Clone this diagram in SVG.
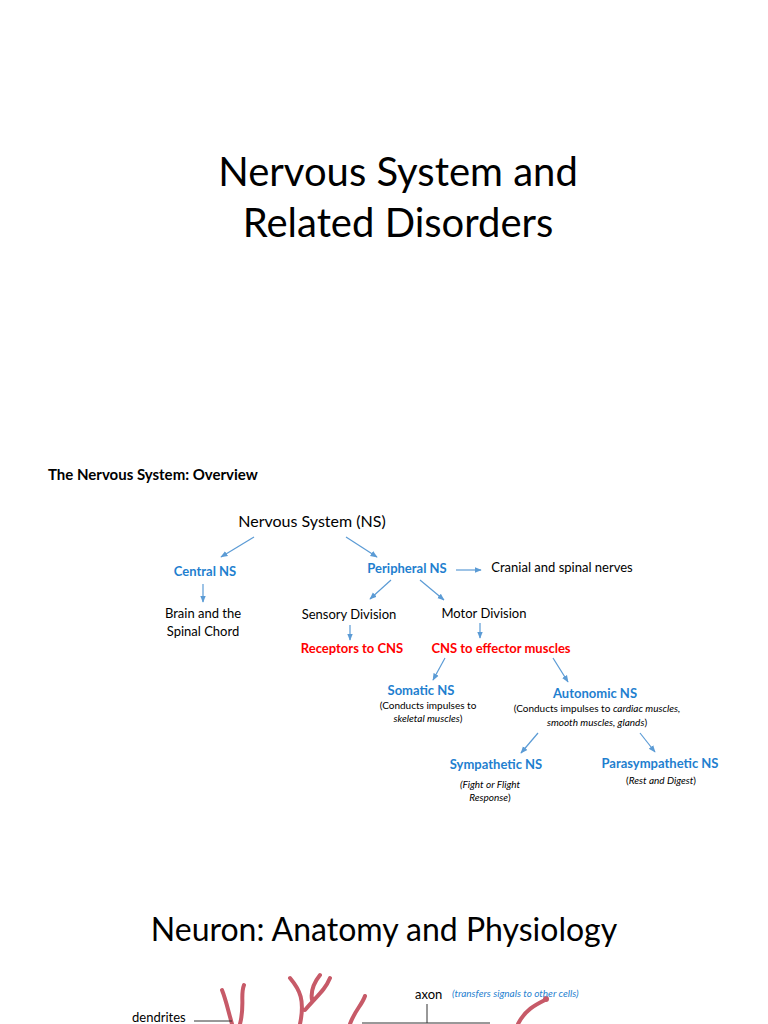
<svg xmlns="http://www.w3.org/2000/svg" width="768" height="1024" viewBox="0 0 768 1024">
<defs>
<marker id="ah" viewBox="0 0 10 10" refX="9" refY="5" markerWidth="6" markerHeight="6" orient="auto"><path d="M0,1 L10,5 L0,9 z" fill="#5b9bd5"/></marker>
</defs>
<style>
text{font-family:Lato,"Open Sans","Liberation Sans",sans-serif;fill:#000}
.t{font-size:40px;text-anchor:middle}
.b{font-size:13px;font-weight:bold;fill:#1f7fcf;text-anchor:middle}
.r{font-size:13px;font-weight:bold;fill:#ff0000;text-anchor:middle}
.n{font-size:13px;text-anchor:middle}
.s{font-size:10px;text-anchor:middle}
.c line{stroke:#5b9bd5;stroke-width:1.2;marker-end:url(#ah)}
.pk{stroke:#c75a68;stroke-width:4;fill:none;stroke-linecap:round}
</style>
<rect width="768" height="1024" fill="#fff"/>
<text class="t" x="398" y="186">Nervous System and</text>
<text class="t" x="398" y="237">Related Disorders</text>
<text x="48" y="480" style="font-size:15px;font-weight:bold">The Nervous System: Overview</text>
<g id="ns"><text class="n" x="312" y="527" style="font-size:16px">Nervous System (NS)</text></g>
<g id="cns"><text class="b" x="205" y="576">Central NS</text></g>
<g id="brain"><text class="n" x="203" y="618">Brain and the</text><text class="n" x="203" y="636">Spinal Chord</text></g>
<g id="pns"><text class="b" x="407" y="573">Peripheral NS</text></g>
<g id="cranial"><text class="n" x="562" y="572">Cranial and spinal nerves</text></g>
<g id="sensory"><text class="n" x="349" y="619">Sensory Division</text></g>
<g id="motor"><text class="n" x="484" y="618">Motor Division</text></g>
<g id="rec"><text class="r" x="352" y="653">Receptors to CNS</text></g>
<g id="eff"><text class="r" x="501" y="653">CNS to effector muscles</text></g>
<g id="som"><text class="b" x="421" y="695">Somatic NS</text><text class="s" x="428" y="709">(Conducts impulses to</text><text class="s" x="428" y="722"><tspan font-style="italic">skeletal muscles</tspan>)</text></g>
<g id="aut"><text class="b" x="595" y="698">Autonomic NS</text><text class="s" x="597" y="712">(Conducts impulses to <tspan font-style="italic">cardiac muscles,</tspan></text><text class="s" x="597" y="726"><tspan font-style="italic">smooth muscles, glands</tspan>)</text></g>
<g id="sym"><text class="b" x="496" y="769">Sympathetic NS</text><text class="s" x="490" y="788" font-style="italic">(Fight or Flight</text><text class="s" x="490" y="801"><tspan font-style="italic">Response</tspan>)</text></g>
<g id="para"><text class="b" x="660" y="768">Parasympathetic NS</text><text class="s" x="661" y="784">(<tspan font-style="italic">Rest and Digest</tspan>)</text></g>
<g class="c" id="connectors">
<line x1="254" y1="537" x2="221" y2="557"/>
<line x1="346" y1="537" x2="377" y2="557"/>
<line x1="203" y1="584" x2="203" y2="602"/>
<line x1="456" y1="570" x2="481" y2="570"/>
<line x1="391" y1="580" x2="370" y2="599"/>
<line x1="420" y1="580" x2="444" y2="600"/>
<line x1="350" y1="625" x2="350" y2="640"/>
<line x1="480" y1="623" x2="480" y2="638"/>
<line x1="445" y1="658" x2="433" y2="680"/>
<line x1="553" y1="658" x2="568" y2="682"/>
<line x1="538" y1="733" x2="521" y2="753"/>
<line x1="640" y1="733" x2="655" y2="752"/>
</g>
<text class="t" x="384" y="941" style="font-size:32px">Neuron: Anatomy and Physiology</text>
<g id="neuron">
<path class="pk" d="M232,1024 C228,1010 226,1000 222,990 M240,1024 C245,1005 240,995 244,985 M300,1024 C305,1000 300,990 290,978 M305,1010 C318,995 325,990 330,978 M312,1000 C310,988 316,980 320,975 M350,1024 C355,1010 362,1005 365,996"/>
<path class="pk" d="M518,1024 C525,1010 535,1005 545,1000"/>
<circle cx="546" cy="999" r="3" fill="#c75a68"/>
<text x="415" y="999" style="font-size:13px">axon</text>
<text x="452" y="997" style="font-size:10px;font-style:italic;fill:#1f7fcf">(transfers signals to other cells)</text>
<text x="132" y="1022" style="font-size:13px">dendrites</text>
<path d="M194,1021 H232 M427,1004 V1023 M362,1023 H490" stroke="#333" stroke-width="1" fill="none"/>
</g>
</svg>
